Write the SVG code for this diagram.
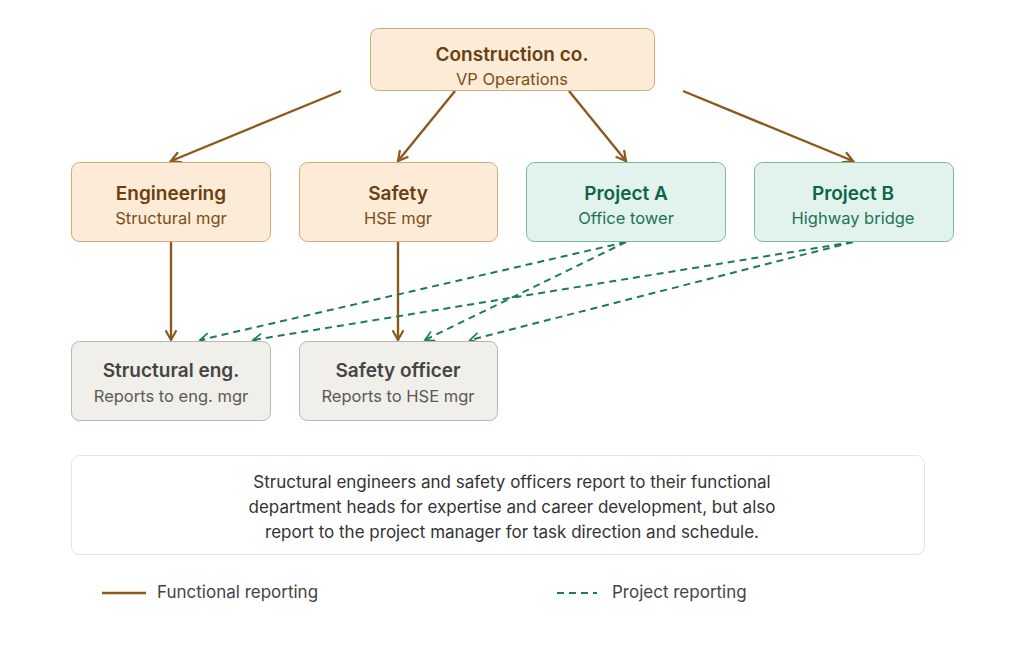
<svg xmlns="http://www.w3.org/2000/svg" width="1024" height="654" viewBox="0 0 1024 654">
<defs>
<marker id="ab" viewBox="0 0 12 12" refX="10" refY="6" markerWidth="13" markerHeight="13" markerUnits="userSpaceOnUse" orient="auto"><polyline points="1,1 10,6 1,11" fill="none" stroke="#8a5a1c" stroke-width="2"/></marker>
<marker id="ag" viewBox="0 0 12 12" refX="10" refY="6" markerWidth="12" markerHeight="12" markerUnits="userSpaceOnUse" orient="auto"><polyline points="1,1 10,6 1,11" fill="none" stroke="#1f7a5c" stroke-width="1.7"/></marker>
</defs>
<style>
text{font-family:Inter,"Noto Sans","Liberation Sans",sans-serif;text-anchor:middle}
.t{font-size:19px;font-weight:600}
.s{font-size:16.5px}
.n{font-size:17px}
.tan rect{fill:#fbebd7;stroke:#d2ab7c;stroke-width:1}
.tan .t{fill:#6b3f0f}.tan .s{fill:#7d4e18}
.grn rect{fill:#e1f3ec;stroke:#7cb89f;stroke-width:1}
.grn .t{fill:#0f6545}.grn .s{fill:#1d7353}
.gry rect{fill:#f1efe9;stroke:#b9b6ae;stroke-width:1}
.gry .t{fill:#444}.gry .s{fill:#5a5a5a}
.f{stroke:#8a5a1c;stroke-width:2.4;fill:none}
.p{stroke:#1f7a5c;stroke-width:2;fill:none;stroke-dasharray:7 5}
</style>
<g id="connectors">
<line class="f" x1="341" y1="91" x2="171" y2="161" marker-end="url(#ab)"/>
<line class="f" x1="455" y1="91" x2="398" y2="161" marker-end="url(#ab)"/>
<line class="f" x1="569" y1="91" x2="626" y2="161" marker-end="url(#ab)"/>
<line class="f" x1="683" y1="91" x2="853" y2="161" marker-end="url(#ab)"/>
<line class="f" x1="171" y1="242" x2="171" y2="340" marker-end="url(#ab)"/>
<line class="f" x1="398" y1="242" x2="398" y2="340" marker-end="url(#ab)"/>
<line class="p" x1="626" y1="242" x2="200" y2="340" marker-end="url(#ag)"/>
<line class="p" x1="626" y1="242" x2="425" y2="340" marker-end="url(#ag)"/>
<line class="p" x1="853" y1="242" x2="253" y2="340" marker-end="url(#ag)"/>
<line class="p" x1="853" y1="242" x2="470" y2="340" marker-end="url(#ag)"/>
</g>
<g id="construction" class="tan"><rect x="370.5" y="28.5" width="284" height="62" rx="8"/><text class="t" x="512" y="61">Construction co.</text><text class="s" x="512" y="85">VP Operations</text></g>
<g id="engineering" class="tan"><rect x="71.5" y="162.5" width="199" height="79" rx="8"/><text class="t" x="171" y="200">Engineering</text><text class="s" x="171" y="224">Structural mgr</text></g>
<g id="safety" class="tan"><rect x="299.5" y="162.5" width="198" height="79" rx="8"/><text class="t" x="398" y="200">Safety</text><text class="s" x="398" y="224">HSE mgr</text></g>
<g id="projectA" class="grn"><rect x="526.5" y="162.5" width="199" height="79" rx="8"/><text class="t" x="626" y="200">Project A</text><text class="s" x="626" y="224">Office tower</text></g>
<g id="projectB" class="grn"><rect x="754.5" y="162.5" width="199" height="79" rx="8"/><text class="t" x="853" y="200">Project B</text><text class="s" x="853" y="224">Highway bridge</text></g>
<g id="structuralEng" class="gry"><rect x="71.5" y="341.5" width="199" height="79" rx="8"/><text class="t" x="171" y="377">Structural eng.</text><text class="s" x="171" y="402">Reports to eng. mgr</text></g>
<g id="safetyOfficer" class="gry"><rect x="299.5" y="341.5" width="198" height="79" rx="8"/><text class="t" x="398" y="377">Safety officer</text><text class="s" x="398" y="402">Reports to HSE mgr</text></g>
<g id="note"><rect x="71.5" y="455.5" width="853" height="99" rx="8" fill="#fff" stroke="#e6e4df"/>
<text class="n" x="512" y="488" fill="#333">Structural engineers and safety officers report to their functional</text>
<text class="n" x="512" y="513" fill="#333">department heads for expertise and career development, but also</text>
<text class="n" x="512" y="538" fill="#333">report to the project manager for task direction and schedule.</text></g>
<g id="legend">
<line class="f" x1="102" y1="593" x2="146" y2="593"/>
<text class="n" x="157" y="598" fill="#444" style="text-anchor:start">Functional reporting</text>
<line class="p" x1="557" y1="593" x2="597" y2="593"/>
<text class="n" x="612" y="598" fill="#444" style="text-anchor:start">Project reporting</text>
</g>
</svg>
